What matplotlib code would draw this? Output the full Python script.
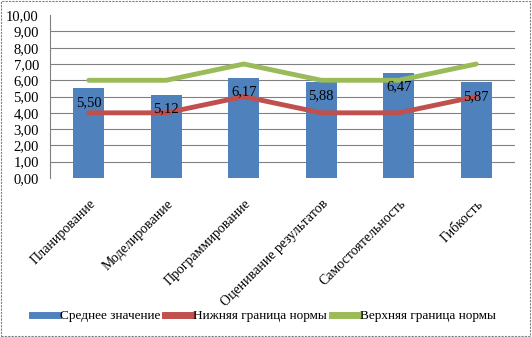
import matplotlib
matplotlib.use("Agg")
import matplotlib.pyplot as plt
from matplotlib.patches import Rectangle
import numpy as np

plt.rcParams['font.family'] = 'serif'
plt.rcParams['font.serif'] = ['Liberation Serif', 'DejaVu Serif']

# data
categories = ['Планирование', 'Моделирование', 'Программирование',
              'Оценивание результатов', 'Самостоятельность', 'Гибкость']
mean_vals = [5.50, 5.12, 6.17, 5.88, 6.47, 5.87]
lower_norm = [4, 4, 5, 4, 4, 5]
upper_norm = [6, 6, 7, 6, 6, 7]
yticks = [0, 1, 2, 3, 4, 5, 6, 7, 8, 9, 10]

blue = '#4F81BD'
red = '#C0504D'
green = '#9BBB59'

fig = plt.figure(figsize=(5.32, 3.37), dpi=100)
ax = fig.add_axes([0.094, 0.472, 0.874, 0.483])

x = np.arange(len(categories))
bars = ax.bar(x, mean_vals, width=0.4, color=blue, zorder=2, label='Среднее значение')
ax.plot(x, lower_norm, color=red, lw=3.5, solid_joinstyle='round',
        solid_capstyle='round', zorder=3, label='Нижняя граница нормы')
ax.plot(x, upper_norm, color=green, lw=3.5, solid_joinstyle='round',
        solid_capstyle='round', zorder=3, label='Верхняя граница нормы')

for xi, v in zip(x, mean_vals):
    ax.annotate(f'{v:.2f}'.replace('.', ','), (xi, v), xytext=(0, -10),
                textcoords='offset points', ha='center', va='center',
                fontsize=10.5, zorder=4)

ax.set_xlim(-0.5, len(categories) - 0.5)
ax.set_ylim(0, 10)
ax.set_yticks(yticks)
ax.set_yticklabels([f'{t:.2f}'.replace('.', ',') for t in yticks], fontsize=10.5)
for t in yticks[1:-1]:
    ax.axhline(t, color='#808080', lw=0.8, zorder=1)

ax.set_xticks(x)
ax.set_xticklabels(categories, rotation=45, ha='right', rotation_mode='anchor', fontsize=10)
ax.tick_params(axis='both', length=0)
ax.tick_params(axis='x', pad=14)
ax.tick_params(axis='y', pad=8)

for s in ['top', 'right', 'bottom']:
    ax.spines[s].set_visible(False)
ax.spines['left'].set_color('#808080')
ax.spines['left'].set_linewidth(0.8)

handles = [plt.Line2D([], [], color=blue, lw=5),
           plt.Line2D([], [], color=red, lw=5),
           plt.Line2D([], [], color=green, lw=5)]
fig.legend(handles, ['Среднее значение', 'Нижняя граница нормы', 'Верхняя граница нормы'],
           loc='center', bbox_to_anchor=(0.496, 0.062), ncol=3, frameon=False,
           fontsize=9.5, handlelength=2.0, handletextpad=0.1, columnspacing=0.4)

fig.patches.append(Rectangle((0.002, 0.003), 0.995, 0.994, transform=fig.transFigure,
                             fill=False, edgecolor='#808080', lw=0.8, ls=(0, (2, 1))))

fig.savefig('out.png', dpi=100)
